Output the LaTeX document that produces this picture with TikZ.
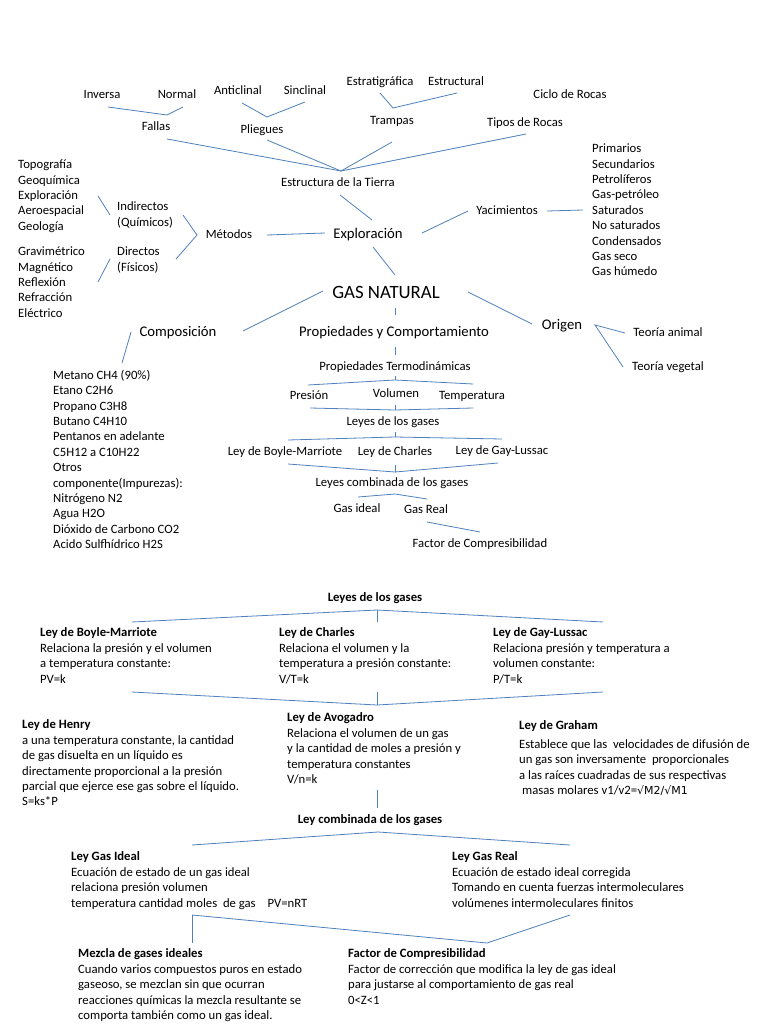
\documentclass[tikz,border=0pt]{standalone}
\usepackage{fontspec}
\setmainfont{Carlito}
\newfontfamily\rootsign{DejaVu Sans}
\definecolor{linkblue}{RGB}{79,129,189}

\begin{document}
\begin{tikzpicture}[
    x=1pt, y=-1pt,
    concept/.style={inner sep=0pt, text height=9.5pt, text depth=2.5pt, font=\fontsize{12.7}{15.4}\selectfont},
    branch/.style={inner sep=0pt, text height=11pt, text depth=3pt, font=\fontsize{14.7}{17}\selectfont},
    root/.style={inner sep=0pt, text height=12.1pt, text depth=0pt, font=\fontsize{18.8}{22}\selectfont},
    heading/.style={concept, font=\fontsize{12.7}{15.4}\selectfont\bfseries},
    list/.style={inner sep=0pt, anchor=north west, align=left, font=\fontsize{12.7}{15.4}\selectfont},
    link/.style={draw=linkblue, line width=0.8pt}
]
    \fill[white] (0,0) rectangle (768,1024);

    \node[concept] (inversa) at (102,95) {Inversa};
    \node[concept] (normal) at (177,95) {Normal};
    \node[concept] (anticlinal) at (238,91) {Anticlinal};
    \node[concept] (sinclinal) at (305,91) {Sinclinal};
    \node[concept] (estratigrafica) at (380,82) {Estratigráfica};
    \node[concept] (estructural) at (456,82) {Estructural};
    \node[concept] (ciclo) at (570,95) {Ciclo de Rocas};
    \node[concept] (fallas) at (156,127) {Fallas};
    \node[concept] (pliegues) at (262,130) {Pliegues};
    \node[concept] (trampas) at (392,121) {Trampas};
    \node[concept] (tipos) at (525,123) {Tipos de Rocas};
    \node[concept] (estructura) at (338,183) {Estructura de la Tierra};

    \node[list] (indlist) at (18,159.8) {Topografía\\Geoquímica\\Exploración\\Aeroespacial\\Geología};
    \node[list] (dirlist) at (18,246.8) {Gravimétrico\\Magnético\\Reflexión\\Refracción\\Eléctrico};
    \node[list] (indirectos) at (117,201.8) {Indirectos\\(Químicos)};
    \node[list] (directos) at (117,246.8) {Directos\\(Físicos)};
    \node[concept] (metodos) at (229,235) {Métodos};
    \node[branch] (exploracion) at (368,234) {Exploración};
    \node[concept] (yacimientos) at (507,211) {Yacimientos};
    \node[list] (yaclist) at (592,143.8) {Primarios\\Secundarios\\Petrolíferos\\Gas-petróleo\\Saturados\\No saturados\\Condensados\\Gas seco\\Gas húmedo};

    \node[root] (gas) at (386,292) {GAS NATURAL};
    \node[branch] (composicion) at (178,332) {Composición};
    \node[branch] (propiedades) at (394,332) {Propiedades y Comportamiento};
    \node[branch] (origen) at (562,325) {Origen};
    \node[concept] (animal) at (668,333) {Teoría animal};
    \node[concept] (vegetal) at (668,367) {Teoría vegetal};
    \node[list] (comlist) at (53,369.8) {Metano CH4 (90\%)\\Etano C2H6\\Propano C3H8\\Butano C4H10\\Pentanos en adelante\\C5H12 a C10H22\\Otros\\componente(Impurezas):\\Nitrógeno N2\\Agua H2O\\Dióxido de Carbono CO2\\Acido Sulfhídrico H2S};

    \node[concept] (termo) at (395,367) {Propiedades Termodinámicas};
    \node[concept] (presion) at (309,396) {Presión};
    \node[concept] (volumen) at (396,394) {Volumen};
    \node[concept] (temperatura) at (472,396) {Temperatura};
    \node[concept] (leyes) at (393,422) {Leyes de los gases};
    \node[concept] (boyle) at (285,452) {Ley de Boyle-Marriote};
    \node[concept] (charles) at (395,452) {Ley de Charles};
    \node[concept] (gaylussac) at (502,451) {Ley de Gay-Lussac};
    \node[concept] (combinada) at (392,483) {Leyes combinada de los gases};
    \node[concept] (ideal) at (357,509) {Gas ideal};
    \node[concept] (real) at (426,510) {Gas Real};
    \node[concept] (factor) at (480,544) {Factor de Compresibilidad};

    \node[heading] (bleyes) at (375,598) {Leyes de los gases};
    \node[list] (bboyle) at (40,627.8) {\textbf{Ley de Boyle-Marriote}\\Relaciona la presión y el volumen\\a temperatura constante:\\PV=k};
    \node[list] (bcharles) at (279,627.8) {\textbf{Ley de Charles}\\Relaciona el volumen y la\\temperatura a presión constante:\\V/T=k};
    \node[list] (bgay) at (493,627.8) {\textbf{Ley de Gay-Lussac}\\Relaciona presión y temperatura a\\volumen constante:\\P/T=k};
    \node[list] (bhenry) at (22,719.8) {\textbf{Ley de Henry}\\a una temperatura constante, la cantidad\\de gas disuelta en un líquido es\\directamente proporcional a la presión\\parcial que ejerce ese gas sobre el líquido.\\S=ks*P};
    \node[list] (bavogadro) at (287,712.8) {\textbf{Ley de Avogadro}\\Relaciona el volumen de un gas\\y la cantidad de moles a presión y\\temperatura constantes\\V/n=k};
    \node[list] (bgraham) at (519,720.8) {\textbf{Ley de Graham}\\[3pt]Establece que las~ velocidades de difusión de\\un gas son inversamente~ proporcionales\\a las raíces cuadradas de sus respectivas\\\hspace{3pt}masas molares v1/v2={\rootsign\fontsize{11}{15.4}\selectfont √M2/√M1}};
    \node[heading] (bcombinada) at (370,820) {Ley combinada de los gases};
    \node[list] (bideal) at (71,851.8) {\textbf{Ley Gas Ideal}\\Ecuación de estado de un gas ideal\\relaciona presión volumen\\temperatura cantidad moles~ de gas\hspace{12pt}PV=nRT};
    \node[list] (breal) at (452,851.8) {\textbf{Ley Gas Real}\\Ecuación de estado ideal corregida\\Tomando en cuenta fuerzas intermoleculares\\volúmenes intermoleculares finitos};
    \node[list] (bmezcla) at (78,948.8) {\textbf{Mezcla de gases ideales}\\Cuando varios compuestos puros en estado\\gaseoso, se mezclan sin que ocurran\\reacciones químicas la mezcla resultante se\\comporta también como un gas ideal.};
    \node[list] (bfactor) at (348,948.8) {\textbf{Factor de Compresibilidad}\\Factor de corrección que modifica la ley de gas ideal\\para justarse al comportamiento de gas real\\0<Z<1};

    \foreach \n/\x/\y in {
        invE/108/107, falJ/167/115, norE/183/107,
        antE/242/103, pliJ/267/117, sinE/305/102,
        estE/380/93, traJ/393/108, etlE/457/93,
        falS/167/139, pliS/267/140, traS/392/142, tipS/526/134, estJ/341/171,
        estS/340/195, expN/372/220, expS/373/247, gasN/395/275,
        metE/267/235, expW/325/233,
        indE/183/215, metJ/197/235, dirE/176/259,
        topE/98/196, indW/110/215, dirW/110/259, graE/98/282,
        expE/422/233, yacW/468/211, yacE/547/211, yacL/583/210,
        gasW/323/291, comE/243/331, gasS/395/308, proN/395/315,
        comW/131/332, comL/122/363, gasE/468/292, oriW/532/324,
        aniW/625/333, oriE/595/325, vegW/623/367,
        proS/395/347, terN/395/355,
        preN/308/385, terJ/395/380, temN/473/384, terS/395/376,
        preS/310/408, volJ/395/410, temS/473/408, volS/395/405,
        boyN/288/440, lgJ/395/437, gayN/502/439, lgS/395/432,
        boyS/288/464, lcJ/395/472, gayS/498/463, chaS/395/465,
        ideN/358/497, gcJ/395/494, reaN/427/499,
        reaS/427/522, facN/480/532,
        bBoyN/132/622, bLeyJ/377/610, bGayN/603/622, bChaN/377/622,
        bBoyS/132/692, bAvoJ/377/705, bGayS/603/692, bChaS/377/692,
        bAvoS/377/790, bLcN/377/808,
        bIdeN/192/845, bLcJ/378/832, bReaN/570/845,
        bIdeS/192/915, bMezN/192/943, bFacJ/487/943, bReaS/570/915}
        \coordinate (\n) at (\x,\y);

    \draw[link] (invE) -- (falJ) -- (norE);
    \draw[link] (antE) -- (pliJ) -- (sinE);
    \draw[link] (estE) -- (traJ) -- (etlE);
    \draw[link] (falS) -- (estJ) -- (tipS);
    \draw[link] (pliS) -- (estJ) -- (traS);
    \draw[link] (estS) -- (expN);
    \draw[link] (expS) -- (gasN);
    \draw[link] (metE) -- (expW);
    \draw[link] (indE) -- (metJ) -- (dirE);
    \draw[link] (topE) -- (indW);
    \draw[link] (dirW) -- (graE);
    \draw[link] (expE) -- (yacW);
    \draw[link] (yacE) -- (yacL);
    \draw[link] (gasW) -- (comE);
    \draw[link] (gasS) -- (proN);
    \draw[link] (comW) -- (comL);
    \draw[link] (gasE) -- (oriW);
    \draw[link] (aniW) -- (oriE) -- (vegW);
    \draw[link] (proS) -- (terN);
    \draw[link] (preN) -- (terJ) -- (temN);
    \draw[link] (terS) -- (terJ);
    \draw[link] (preS) -- (volJ) -- (temS);
    \draw[link] (volS) -- (volJ);
    \draw[link] (boyN) -- (lgJ) -- (gayN);
    \draw[link] (lgS) -- (lgJ);
    \draw[link] (boyS) -- (lcJ) -- (gayS);
    \draw[link] (chaS) -- (lcJ);
    \draw[link] (ideN) -- (gcJ) -- (reaN);
    \draw[link] (reaS) -- (facN);

    \draw[link] (bBoyN) -- (bLeyJ) -- (bGayN);
    \draw[link] (bLeyJ) -- (bChaN);
    \draw[link] (bBoyS) -- (bAvoJ) -- (bGayS);
    \draw[link] (bChaS) -- (bAvoJ);
    \draw[link] (bAvoS) -- (bLcN);
    \draw[link] (bIdeN) -- (bLcJ) -- (bReaN);
    \draw[link] (bIdeS) -- (bMezN);
    \draw[link] (bIdeS) -- (bFacJ) -- (bReaS);
\end{tikzpicture}
\end{document}
